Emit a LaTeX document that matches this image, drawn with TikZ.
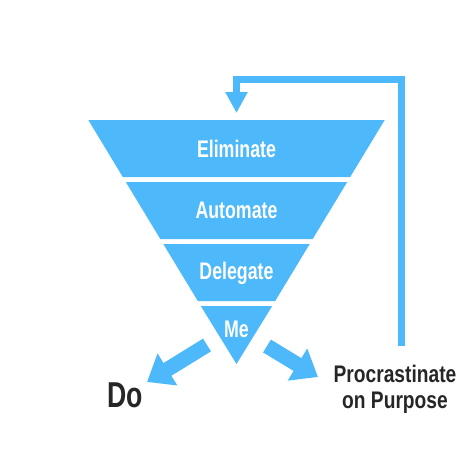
\documentclass[tikz,border=0pt]{standalone}
\usepackage{fontspec}
\setmainfont{Liberation Sans}
\newfontfamily\bandfont{Liberation Sans}[FakeStretch=0.74]
\newfontfamily\sidefont{Liberation Sans}[FakeStretch=0.8]
\usetikzlibrary{arrows.meta}
\definecolor{funnelblue}{RGB}{77,184,250}
\definecolor{textdark}{RGB}{38,38,38}
\begin{document}
\begin{tikzpicture}[x=1pt,y=-1pt,inner sep=0pt,outer sep=0pt,
band/.style={fill=funnelblue},
bandlabel/.style={anchor=base,text=white,font=\bandfont\bfseries\fontsize{24}{26}\selectfont},
bigarrow/.style={draw=funnelblue,line width=15pt,-{Triangle[length=24pt,width=36pt]}},
feedback/.style={draw=funnelblue,line width=7pt,-{Triangle[length=21pt,width=21pt]}},
sidelabel/.style={text=textdark,font=\sidefont\bfseries\fontsize{24}{26}\selectfont,align=center}]
\useasboundingbox (0,0) rectangle (474,474);
% funnel bands
\fill[band] (88.3,120) -- (384.7,120) -- (350.2,177) -- (122.8,177) -- cycle;
\fill[band] (125.8,182) -- (347.2,182) -- (312.7,239) -- (160.3,239) -- cycle;
\fill[band] (163.3,244) -- (309.7,244) -- (275.2,301) -- (197.8,301) -- cycle;
\fill[band] (200.8,306) -- (272.2,306) -- (236.5,364) -- cycle;
\draw (236.5,157) node[bandlabel] (elim) {Eliminate};
\draw (236.5,218) node[bandlabel] (auto) {Automate};
\draw (236.5,279) node[bandlabel] (deleg) {Delegate};
\draw (236.5,337) node[bandlabel] (me) {Me};
% outcomes
\draw (125,407) node[anchor=base,text=textdark,font=\bandfont\bfseries\fontsize{36}{38}\selectfont] (do) {Do};
\draw (395,389) node[sidelabel] (procr) {Procrastinate\\on Purpose};
\coordinate (dostart) at (207,345);
\coordinate (doend) at (147,382);
\coordinate (pstart) at (267,346);
\coordinate (pend) at (318,377);
\draw[bigarrow] (dostart) -- (doend);
\draw[bigarrow] (pstart) -- (pend);
% loop back to the top
\coordinate (fbstart) at (401,346);
\coordinate (fbcorner) at (401,79);
\coordinate (elimtop) at (236.5,113);
\draw[feedback] (fbstart) -- (fbcorner) -| (elimtop);
\end{tikzpicture}
\end{document}
